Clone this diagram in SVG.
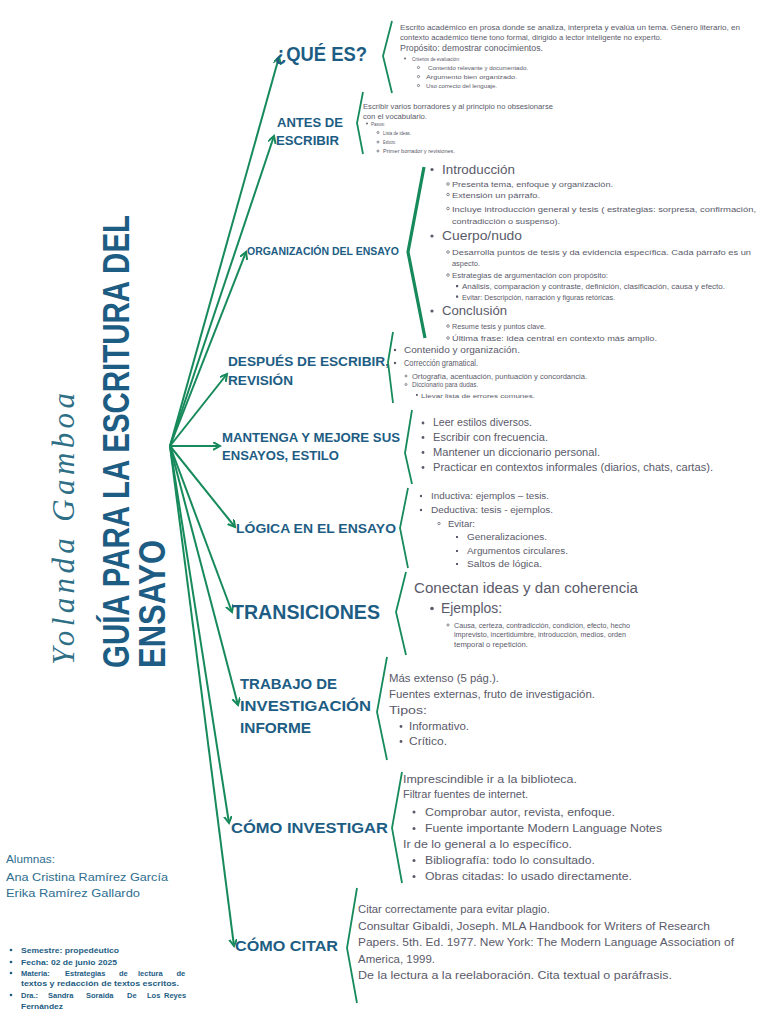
<svg xmlns="http://www.w3.org/2000/svg" width="768" height="1024" viewBox="0 0 768 1024">
<style>
.h{font-family:"Liberation Sans",Arial,sans-serif;font-weight:bold;fill:#1d5d84}
.b{font-family:"Liberation Sans",Arial,sans-serif;fill:#5a5a6a}
.br{fill:none;stroke:#178a5b;stroke-width:1.8;stroke-linejoin:miter}
.c{stroke:#178a5b;stroke-width:2;fill:none;marker-end:url(#arr)}
.dot{fill:#5a5a6a}
.ring{fill:none;stroke:#5a5a6a;stroke-width:0.7}
.sq{fill:#5a5a6a}
.al{font-family:"Liberation Sans",Arial,sans-serif;fill:#2f6e90}
.fb{font-family:"Liberation Sans",Arial,sans-serif;font-weight:bold;fill:#1d5d84;font-size:7.5px}
</style>
<defs>
<marker id="arr" markerWidth="10" markerHeight="10" refX="7" refY="4" orient="auto" markerUnits="userSpaceOnUse">
<path d="M0,0 L7,4 L0,8" fill="none" stroke="#178a5b" stroke-width="2"/>
</marker>
</defs>
<rect width="768" height="1024" fill="#ffffff"/>

<g id="title">
<text class="h" transform="translate(129,668) rotate(-90)" font-size="36" textLength="453" lengthAdjust="spacingAndGlyphs">GUÍA PARA LA ESCRITURA DEL</text>
<text class="h" transform="translate(165,668) rotate(-90)" font-size="36" textLength="128" lengthAdjust="spacingAndGlyphs">ENSAYO</text>
<text transform="translate(74,665) rotate(-90)" font-family="'Liberation Serif',serif" font-style="italic" font-size="31" fill="#2e6f86" textLength="272" lengthAdjust="spacing">Yolanda Gamboa</text>
</g>

<g id="connectors">
<line class="c" x1="170" y1="446" x2="279" y2="57"/>
<line class="c" x1="170" y1="446" x2="274" y2="136"/>
<line class="c" x1="170" y1="446" x2="246" y2="252"/>
<line class="c" x1="170" y1="446" x2="227" y2="374"/>
<line class="c" x1="170" y1="446" x2="220" y2="446"/>
<line class="c" x1="170" y1="446" x2="235" y2="527"/>
<line class="c" x1="170" y1="446" x2="232" y2="612"/>
<line class="c" x1="170" y1="446" x2="238" y2="705"/>
<line class="c" x1="170" y1="446" x2="229" y2="823"/>
<line class="c" x1="170" y1="446" x2="234" y2="946"/>
</g>

<g id="que-es">
<text class="h" x="275" y="61" font-size="20" textLength="92" lengthAdjust="spacingAndGlyphs">¿QUÉ ES?</text>
<polyline class="br" points="392,21 383,56 392,93"/>
<text class="b" x="400" y="30" font-size="7.2" textLength="340" lengthAdjust="spacingAndGlyphs">Escrito académico en prosa donde se analiza, interpreta y evalúa un tema. Género literario, en</text>
<text class="b" x="400" y="40" font-size="7.2" textLength="262" lengthAdjust="spacingAndGlyphs">contexto académico tiene tono formal, dirigido a lector inteligente no experto.</text>
<text class="b" x="400" y="51" font-size="8.5" textLength="143" lengthAdjust="spacingAndGlyphs">Propósito: demostrar conocimientos.</text>
<circle class="dot" cx="405" cy="58.5" r="0.9"/>
<text class="b" x="412" y="60.5" font-size="5" textLength="48" lengthAdjust="spacingAndGlyphs">Criterios de evaluación:</text>
<circle class="ring" cx="418.5" cy="67.5" r="1.1"/>
<text class="b" x="428" y="69.5" font-size="5" textLength="100" lengthAdjust="spacingAndGlyphs">Contenido relevante y documentado.</text>
<circle class="ring" cx="418.5" cy="76.5" r="1.1"/>
<text class="b" x="426" y="78.5" font-size="5" textLength="91" lengthAdjust="spacingAndGlyphs">Argumento bien organizado.</text>
<circle class="ring" cx="418.5" cy="85.5" r="1.1"/>
<text class="b" x="426" y="87.5" font-size="5" textLength="71" lengthAdjust="spacingAndGlyphs">Uso correcto del lenguaje.</text>
</g>

<g id="antes">
<text class="h" x="277" y="127" font-size="13.5" textLength="66" lengthAdjust="spacingAndGlyphs">ANTES DE</text>
<text class="h" x="276" y="145" font-size="13.5" textLength="63" lengthAdjust="spacingAndGlyphs">ESCRIBIR</text>
<polyline class="br" points="363,92 357,123 363,154"/>
<text class="b" x="363" y="109" font-size="6.8" textLength="190" lengthAdjust="spacingAndGlyphs">Escribir varios borradores y al principio no obsesionarse</text>
<text class="b" x="363" y="118.5" font-size="6.8" textLength="64" lengthAdjust="spacingAndGlyphs">con el vocabulario.</text>
<circle class="dot" cx="367" cy="123.5" r="0.9"/>
<text class="b" x="371" y="125.5" font-size="5" textLength="14" lengthAdjust="spacingAndGlyphs">Pasos:</text>
<circle class="ring" cx="378" cy="132.5" r="1"/>
<text class="b" x="383" y="134.5" font-size="4.6" textLength="28" lengthAdjust="spacingAndGlyphs">Lista de ideas.</text>
<circle class="ring" cx="378" cy="142" r="1"/>
<text class="b" x="383" y="144" font-size="4.6" textLength="13" lengthAdjust="spacingAndGlyphs">Esbozo.</text>
<circle class="ring" cx="378" cy="151" r="1"/>
<text class="b" x="383" y="153" font-size="4.6" textLength="72" lengthAdjust="spacingAndGlyphs">Primer borrador y revisiones.</text>
</g>

<g id="organizacion">
<text class="h" x="247" y="255" font-size="10" textLength="152" lengthAdjust="spacingAndGlyphs">ORGANIZACIÓN DEL ENSAYO</text>
<polyline class="br" style="stroke-width:3.2" points="424,167 408,252 425,338"/>
<circle class="dot" cx="432" cy="169.5" r="1.6"/>
<text class="b" x="442" y="173.5" font-size="12" textLength="73" lengthAdjust="spacingAndGlyphs">Introducción</text>
<circle class="ring" cx="448" cy="184" r="1.3"/>
<text class="b" x="452" y="187" font-size="8" textLength="161" lengthAdjust="spacingAndGlyphs">Presenta tema, enfoque y organización.</text>
<circle class="ring" cx="448" cy="194.5" r="1.3"/>
<text class="b" x="452" y="197.5" font-size="8" textLength="88" lengthAdjust="spacingAndGlyphs">Extensión un párrafo.</text>
<circle class="ring" cx="448" cy="208.5" r="1.3"/>
<text class="b" x="452" y="211.5" font-size="8" textLength="304" lengthAdjust="spacingAndGlyphs">Incluye introducción general y tesis ( estrategias: sorpresa, confirmación,</text>
<text class="b" x="452" y="224" font-size="8" textLength="108" lengthAdjust="spacingAndGlyphs">contradicción o suspenso).</text>
<circle class="dot" cx="432" cy="236" r="1.6"/>
<text class="b" x="442" y="240" font-size="12" textLength="80" lengthAdjust="spacingAndGlyphs">Cuerpo/nudo</text>
<circle class="ring" cx="448" cy="252" r="1.3"/>
<text class="b" x="452" y="255" font-size="8" textLength="299" lengthAdjust="spacingAndGlyphs">Desarrolla puntos de tesis y da evidencia específica. Cada párrafo es un</text>
<text class="b" x="452" y="266" font-size="8" textLength="28" lengthAdjust="spacingAndGlyphs">aspecto.</text>
<circle class="ring" cx="448" cy="275" r="1.3"/>
<text class="b" x="452" y="278" font-size="8" textLength="156" lengthAdjust="spacingAndGlyphs">Estrategias de argumentación con propósito:</text>
<rect class="sq" x="456" y="285" width="2.2" height="2.2"/>
<text class="b" x="462" y="289" font-size="6.5" textLength="263" lengthAdjust="spacingAndGlyphs">Análisis,  comparación y contraste, definición, clasificación, causa y efecto.</text>
<rect class="sq" x="456" y="295.5" width="2.2" height="2.2"/>
<text class="b" x="462" y="299.5" font-size="6.5" textLength="153" lengthAdjust="spacingAndGlyphs">Evitar: Descripción, narración y figuras retóricas.</text>
<circle class="dot" cx="432" cy="311" r="1.6"/>
<text class="b" x="442" y="315" font-size="12" textLength="65" lengthAdjust="spacingAndGlyphs">Conclusión</text>
<circle class="ring" cx="448" cy="326" r="1.3"/>
<text class="b" x="452" y="329" font-size="8" textLength="94" lengthAdjust="spacingAndGlyphs">Resume tesis y puntos clave.</text>
<circle class="ring" cx="448" cy="338" r="1.3"/>
<text class="b" x="452" y="341" font-size="8" textLength="205" lengthAdjust="spacingAndGlyphs">Última frase: idea central en contexto más amplio.</text>
</g>

<g id="despues">
<text class="h" x="228" y="366" font-size="13.5" textLength="161" lengthAdjust="spacingAndGlyphs">DESPUÉS DE ESCRIBIR,</text>
<text class="h" x="228" y="385" font-size="13.5" textLength="65" lengthAdjust="spacingAndGlyphs">REVISIÓN</text>
<polyline class="br" points="393,332 388,362 393,403"/>
<circle class="dot" cx="395" cy="350" r="1.2"/>
<text class="b" x="404" y="353" font-size="9" textLength="116" lengthAdjust="spacingAndGlyphs">Contenido y organización.</text>
<circle class="dot" cx="395" cy="363" r="1.2"/>
<text class="b" x="404" y="366" font-size="9" textLength="74" lengthAdjust="spacingAndGlyphs">Corrección gramatical.</text>
<circle class="ring" cx="406" cy="376" r="1"/>
<text class="b" x="412" y="378.5" font-size="6.3" textLength="175" lengthAdjust="spacingAndGlyphs">Ortografía, acentuación, puntuación y concordancia.</text>
<circle class="ring" cx="406" cy="384.5" r="1"/>
<text class="b" x="412" y="387" font-size="6.3">Diccionario para dudas.</text>
<rect class="sq" x="416" y="394" width="1.8" height="1.8"/>
<text class="b" x="421" y="397.5" font-size="6" textLength="114" lengthAdjust="spacingAndGlyphs">Llevar lista de errores comunes.</text>
</g>

<g id="mantenga">
<text class="h" x="222" y="442" font-size="13.5" textLength="178" lengthAdjust="spacingAndGlyphs">MANTENGA Y MEJORE SUS</text>
<text class="h" x="222" y="460" font-size="13.5" textLength="117" lengthAdjust="spacingAndGlyphs">ENSAYOS, ESTILO</text>
<polyline class="br" points="412,410 405,453 412,484"/>
<circle class="dot" cx="423" cy="423" r="1.4"/>
<text class="b" x="433" y="426" font-size="10" textLength="99" lengthAdjust="spacingAndGlyphs">Leer estilos diversos.</text>
<circle class="dot" cx="423" cy="437.5" r="1.4"/>
<text class="b" x="433" y="440.5" font-size="10" textLength="115" lengthAdjust="spacingAndGlyphs">Escribir con frecuencia.</text>
<circle class="dot" cx="423" cy="452.5" r="1.4"/>
<text class="b" x="433" y="455.5" font-size="10" textLength="167" lengthAdjust="spacingAndGlyphs">Mantener un diccionario personal.</text>
<circle class="dot" cx="423" cy="467.5" r="1.4"/>
<text class="b" x="433" y="470.5" font-size="10" textLength="280" lengthAdjust="spacingAndGlyphs">Practicar en contextos informales (diarios, chats, cartas).</text>
</g>

<g id="logica">
<text class="h" x="236" y="533" font-size="13.5" textLength="160" lengthAdjust="spacingAndGlyphs">LÓGICA EN EL ENSAYO</text>
<polyline class="br" points="408,488 400,528 408,568"/>
<circle class="dot" cx="421" cy="496" r="1.2"/>
<text class="b" x="431" y="499" font-size="8.5" textLength="118" lengthAdjust="spacingAndGlyphs">Inductiva: ejemplos – tesis.</text>
<circle class="dot" cx="421" cy="510" r="1.2"/>
<text class="b" x="431" y="513" font-size="8.5" textLength="122" lengthAdjust="spacingAndGlyphs">Deductiva: tesis - ejemplos.</text>
<circle class="ring" cx="439" cy="523.5" r="1.2"/>
<text class="b" x="448" y="526.5" font-size="8.5" textLength="27" lengthAdjust="spacingAndGlyphs">Evitar:</text>
<rect class="sq" x="456" y="536" width="2" height="2"/>
<text class="b" x="467" y="540" font-size="8.5" textLength="80" lengthAdjust="spacingAndGlyphs">Generalizaciones.</text>
<rect class="sq" x="456" y="550" width="2" height="2"/>
<text class="b" x="467" y="554" font-size="8.5" textLength="101" lengthAdjust="spacingAndGlyphs">Argumentos circulares.</text>
<rect class="sq" x="456" y="563" width="2" height="2"/>
<text class="b" x="467" y="567" font-size="8.5" textLength="75" lengthAdjust="spacingAndGlyphs">Saltos de lógica.</text>
</g>

<g id="transiciones">
<text class="h" x="232" y="619" font-size="20" textLength="148" lengthAdjust="spacingAndGlyphs">TRANSICIONES</text>
<polyline class="br" points="406,572 396,612 406,655"/>
<text class="b" x="414" y="593" font-size="14" textLength="224" lengthAdjust="spacingAndGlyphs">Conectan ideas y dan coherencia</text>
<circle class="dot" cx="432" cy="608.5" r="1.8"/>
<text class="b" x="441" y="613" font-size="14" textLength="61" lengthAdjust="spacingAndGlyphs">Ejemplos:</text>
<circle class="ring" cx="448" cy="625" r="1.1"/>
<text class="b" x="454" y="627.5" font-size="7" textLength="176" lengthAdjust="spacingAndGlyphs">Causa, certeza, contradicción, condición, efecto, hecho</text>
<text class="b" x="454" y="637" font-size="7" textLength="172" lengthAdjust="spacingAndGlyphs">imprevisto, incertidumbre, introducción, medios, orden</text>
<text class="b" x="454" y="646.5" font-size="7" textLength="74" lengthAdjust="spacingAndGlyphs">temporal o repetición.</text>
</g>

<g id="trabajo">
<text class="h" x="240" y="689" font-size="15" textLength="97" lengthAdjust="spacingAndGlyphs">TRABAJO DE</text>
<text class="h" x="240" y="711" font-size="15" textLength="131" lengthAdjust="spacingAndGlyphs">INVESTIGACIÓN</text>
<text class="h" x="240" y="733" font-size="15" textLength="71" lengthAdjust="spacingAndGlyphs">INFORME</text>
<polyline class="br" points="387,657 377,712 387,760"/>
<text class="b" x="389" y="682" font-size="10.5" textLength="110" lengthAdjust="spacingAndGlyphs">Más extenso (5 pág.).</text>
<text class="b" x="389" y="698" font-size="10.5" textLength="206" lengthAdjust="spacingAndGlyphs">Fuentes externas, fruto de investigación.</text>
<text class="b" x="389" y="714" font-size="10.5" textLength="38" lengthAdjust="spacingAndGlyphs">Tipos:</text>
<circle class="dot" cx="401" cy="726.5" r="1.4"/>
<text class="b" x="409" y="730" font-size="10.5" textLength="60" lengthAdjust="spacingAndGlyphs">Informativo.</text>
<circle class="dot" cx="401" cy="741.5" r="1.4"/>
<text class="b" x="409" y="745" font-size="10.5" textLength="38" lengthAdjust="spacingAndGlyphs">Crítico.</text>
</g>

<g id="investigar">
<text class="h" x="231" y="833" font-size="15" textLength="157" lengthAdjust="spacingAndGlyphs">CÓMO INVESTIGAR</text>
<polyline class="br" points="402,772 392,828 402,883"/>
<text class="b" x="403" y="783" font-size="11.5" textLength="174" lengthAdjust="spacingAndGlyphs">Imprescindible ir a la biblioteca.</text>
<text class="b" x="403" y="798" font-size="11.5" textLength="125" lengthAdjust="spacingAndGlyphs">Filtrar fuentes de internet.</text>
<circle class="dot" cx="414" cy="812" r="1.5"/>
<text class="b" x="425" y="815.5" font-size="11.5" textLength="190" lengthAdjust="spacingAndGlyphs">Comprobar autor, revista, enfoque.</text>
<circle class="dot" cx="414" cy="828.5" r="1.5"/>
<text class="b" x="425" y="832" font-size="11.5" textLength="237" lengthAdjust="spacingAndGlyphs">Fuente importante Modern Language Notes</text>
<text class="b" x="403" y="848" font-size="11.5" textLength="169" lengthAdjust="spacingAndGlyphs">Ir de lo general a lo específico.</text>
<circle class="dot" cx="414" cy="860.5" r="1.5"/>
<text class="b" x="425" y="864" font-size="11.5" textLength="170" lengthAdjust="spacingAndGlyphs">Bibliografía: todo lo consultado.</text>
<circle class="dot" cx="414" cy="876.5" r="1.5"/>
<text class="b" x="425" y="880" font-size="11.5" textLength="207" lengthAdjust="spacingAndGlyphs">Obras citadas: lo usado directamente.</text>
</g>

<g id="citar">
<text class="h" x="235" y="951" font-size="15" textLength="103" lengthAdjust="spacingAndGlyphs">CÓMO CITAR</text>
<polyline class="br" points="357,888 347,948 357,1003"/>
<text class="b" x="358" y="913" font-size="11.5" textLength="192" lengthAdjust="spacingAndGlyphs">Citar correctamente para evitar plagio.</text>
<text class="b" x="358" y="930" font-size="11.5" textLength="352" lengthAdjust="spacingAndGlyphs">Consultar Gibaldi, Joseph. MLA Handbook for Writers of Research</text>
<text class="b" x="358" y="946" font-size="11.5" textLength="376" lengthAdjust="spacingAndGlyphs">Papers. 5th. Ed. 1977. New York: The Modern Language Association of</text>
<text class="b" x="358" y="963" font-size="11.5" textLength="77" lengthAdjust="spacingAndGlyphs">America, 1999.</text>
<text class="b" x="358" y="979" font-size="11.5" textLength="314" lengthAdjust="spacingAndGlyphs">De la lectura a la reelaboración. Cita textual o paráfrasis.</text>
</g>

<g id="alumnas">
<text class="al" x="6" y="863" font-size="11.5" textLength="49" lengthAdjust="spacingAndGlyphs">Alumnas:</text>
<text class="al" x="6" y="881" font-size="11.5" textLength="162" lengthAdjust="spacingAndGlyphs">Ana Cristina Ramírez García</text>
<text class="al" x="6" y="897" font-size="11.5" textLength="134" lengthAdjust="spacingAndGlyphs">Erika Ramírez Gallardo</text>
</g>

<g id="datos">
<circle cx="11" cy="950" r="1.3" fill="#1d5d84"/>
<text class="fb" x="21" y="952.5" textLength="98" lengthAdjust="spacingAndGlyphs">Semestre: propedéutico</text>
<circle cx="11" cy="962" r="1.3" fill="#1d5d84"/>
<text class="fb" x="21" y="964.5" textLength="96" lengthAdjust="spacingAndGlyphs">Fecha: 02 de junio 2025</text>
<circle cx="11" cy="973" r="1.3" fill="#1d5d84"/>
<text class="fb" y="975.5"><tspan x="21">Materia:</tspan><tspan x="65">Estrategias</tspan><tspan x="119">de</tspan><tspan x="138">lectura</tspan><tspan x="176.5">de</tspan></text>
<text class="fb" x="21" y="986" textLength="158" lengthAdjust="spacingAndGlyphs">textos y redacción de textos escritos.</text>
<circle cx="11" cy="995" r="1.3" fill="#1d5d84"/>
<text class="fb" y="997.5"><tspan x="21">Dra.:</tspan><tspan x="48">Sandra</tspan><tspan x="86">Soraida</tspan><tspan x="127">De</tspan><tspan x="147">Los</tspan><tspan x="164">Reyes</tspan></text>
<text class="fb" x="21" y="1008.5" textLength="42" lengthAdjust="spacingAndGlyphs">Fernández</text>
</g>
</svg>
